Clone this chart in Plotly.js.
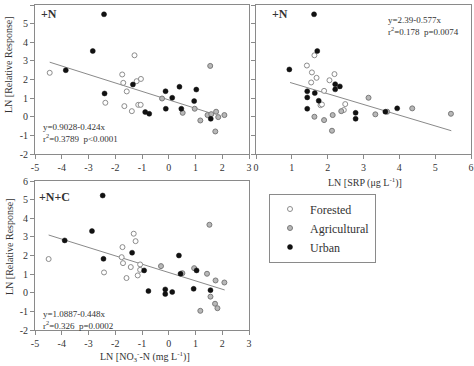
<!DOCTYPE html>
<html>
<head>
<meta charset="utf-8">
<script src="https://cdn.plot.ly/plotly-3.0.1.min.js"></script>
<style>html,body{margin:0;padding:0;background:#fff;}#chart{width:474px;height:366px;}</style>
</head>
<body>
<div id="chart"></div>
<script>
// ---- Data: panel A  (+N vs LN nitrate) ----
var nForX = [-4.45,-2.37,-1.74,-1.70,-1.66,-1.57,-1.38,-1.28,-1.20,-1.04,-1.14,-1.05];
var nForY = [2.36,0.75,2.27,1.82,0.57,1.36,0.30,3.30,1.91,2.03,0.64,0.64];
var nAgrX = [-0.25,0.52,0.97,1.18,1.45,1.55,1.59,1.77,1.74,1.85,2.08];
var nAgrY = [0.98,0.21,0.43,-0.20,0.09,2.73,0.14,0.27,-0.79,-0.02,0.09];
var nUrbX = [-2.42,-2.84,-3.85,-2.40,-1.34,-0.88,-0.73,-0.12,-0.11,0.13,0.40,0.47,0.95,1.03,1.57];
var nUrbY = [5.50,3.53,2.50,1.25,1.73,0.25,0.16,1.37,0.43,1.02,1.61,0.43,0.84,1.46,-0.11];
var nFitX = [-4.45,1.62];
var nFitY = [2.93,0.17];

// ---- Data: panel B  (+N vs LN SRP) ----
var sForX = [1.63,1.42,1.56,2.19,1.69,2.05,1.54,1.90,1.80,1.84,2.49,2.45];
var sForY = [3.30,2.75,2.38,2.29,2.09,1.96,1.84,1.39,0.62,0.66,0.68,0.36];
var sAgrX = [2.38,3.14,3.66,3.33,1.63,2.14,1.90,2.12,4.36,5.44];
var sAgrY = [0.30,1.02,0.27,0.13,0.00,0.09,-0.18,-0.75,0.45,0.16];
var sUrbX = [1.62,1.71,0.93,2.21,2.34,2.21,1.43,1.64,1.43,1.75,1.43,2.78,2.78,3.61,3.94];
var sUrbY = [5.50,3.53,2.54,1.75,1.63,1.47,1.37,1.27,1.04,0.86,0.43,0.21,-0.11,0.27,0.45];
var sFitX = [0.95,5.45];
var sFitY = [1.84,-0.75];

// ---- Data: panel C  (+N+C vs LN nitrate) ----
var cForX = [-4.49,-2.42,-1.73,-1.76,-1.71,-1.58,-1.42,-1.31,-1.24,-1.16,-1.07,-1.07];
var cForY = [1.81,1.09,2.45,1.91,1.59,0.79,1.38,3.17,2.77,0.93,1.52,1.23];
var cAgrX = [-0.29,0.51,0.95,1.43,1.52,1.56,1.18,1.75,1.73,1.82,2.08];
var cAgrY = [1.43,1.05,1.32,1.02,3.65,-0.21,-0.97,0.66,-0.59,-0.83,0.55];
var cUrbX = [-2.47,-2.87,-3.89,-2.44,-1.37,-0.92,-0.76,-0.13,-0.13,0.13,0.38,0.44,0.93,1.04,1.56];
var cUrbY = [5.22,3.31,2.81,1.82,2.15,1.20,0.09,0.18,-0.07,0.04,2.00,1.02,0.21,1.20,0.14];
var cFitX = [-4.49,2.09];
var cFitY = [3.10,0.15];

// ---- Tick labels ----
var yTickVals = [-2,-1,0,1,2,3,4,5,6];
var yTickText = ['-2','-1','0','1','2','3','4','5','6'];
var xNTickVals = [-5,-4,-3,-2,-1,0,1,2,3];
var xNTickText = ['-5','-4','-3','-2','-1','0','1','2','3'];
var xSTickVals = [0,1,2,3,4,5,6];
var xSTickText = ['0','1','2','3','4','5','6'];

var W = 474, H = 366;
function px(x){return x/W;}
function py(y){return 1-y/H;}

var serif = 'Liberation Serif, Times New Roman, serif';
var mFor = {symbol:'circle', size:5, color:'#ffffff', line:{color:'#8c8c8c', width:1}};
var mAgr = {symbol:'circle', size:5, color:'#b8b8b8', line:{color:'#7a7a7a', width:1}};
var mUrb = {symbol:'circle', size:5, color:'#111111', line:{color:'#111111', width:0.5}};
var fitLine = {color:'#8a8a8a', width:1};

function pts(x,y,xa,ya,name,m,show){
  return {type:'scatter', mode:'markers', x:x, y:y, xaxis:xa, yaxis:ya, name:name,
          marker:m, showlegend:show, hoverinfo:'skip'};
}
function fit(x,y,xa,ya){
  return {type:'scatter', mode:'lines', x:x, y:y, xaxis:xa, yaxis:ya, line:fitLine,
          showlegend:false, hoverinfo:'skip'};
}

var data = [
  fit(nFitX,nFitY,'x','y'),
  pts(nForX,nForY,'x','y','Forested',mFor,true),
  pts(nAgrX,nAgrY,'x','y','Agricultural',mAgr,true),
  pts(nUrbX,nUrbY,'x','y','Urban',mUrb,true),
  fit(sFitX,sFitY,'x2','y2'),
  pts(sForX,sForY,'x2','y2','Forested',mFor,false),
  pts(sAgrX,sAgrY,'x2','y2','Agricultural',mAgr,false),
  pts(sUrbX,sUrbY,'x2','y2','Urban',mUrb,false),
  fit(cFitX,cFitY,'x3','y3'),
  pts(cForX,cForY,'x3','y3','Forested',mFor,false),
  pts(cAgrX,cAgrY,'x3','y3','Agricultural',mAgr,false),
  pts(cUrbX,cUrbY,'x3','y3','Urban',mUrb,false)
];

function axis(extra){
  var a = {showgrid:false, zeroline:false, showline:true, mirror:true, linecolor:'#8a8a8a',
           linewidth:1, ticks:'outside', ticklen:4, tickcolor:'#8a8a8a', tickwidth:1,
           tickfont:{family:serif, size:10, color:'#333'}, tickmode:'array', fixedrange:true};
  for (var k in extra) a[k] = extra[k];
  return a;
}

var topDom = [py(154), py(5)];
var botDom = [py(330), py(181)];
var leftDom = [px(35), px(249)];
var rightDom = [px(256), px(471)];

var layout = {
  width:W, height:H, margin:{l:0,r:0,t:0,b:0},
  paper_bgcolor:'#ffffff', plot_bgcolor:'#ffffff',
  font:{family:serif, color:'#333'},
  xaxis: axis({domain:leftDom, range:[-5,3], tickvals:xNTickVals, ticktext:xNTickText, anchor:'y'}),
  yaxis: axis({domain:topDom, range:[-2,6], tickvals:yTickVals, ticktext:yTickText, anchor:'x'}),
  xaxis2: axis({domain:rightDom, range:[0,6], tickvals:xSTickVals, ticktext:xSTickText, anchor:'y2'}),
  yaxis2: axis({domain:topDom, range:[-2,6], tickvals:yTickVals, ticktext:yTickText, showticklabels:false, anchor:'x2'}),
  xaxis3: axis({domain:leftDom, range:[-5,3], tickvals:xNTickVals, ticktext:xNTickText, anchor:'y3'}),
  yaxis3: axis({domain:botDom, range:[-2,6], tickvals:yTickVals, ticktext:yTickText, anchor:'x3'}),
  showlegend:true,
  legend:{x:px(269), y:py(228), xanchor:'left', yanchor:'middle', bordercolor:'#8a8a8a', borderwidth:1,
          bgcolor:'#ffffff', font:{family:serif, size:12, color:'#333'}, tracegroupgap:0},
  annotations:[]
};

function ann(text, x, y, opts){
  var a = {text:text, xref:'paper', yref:'paper', x:px(x), y:py(y), xanchor:'left', yanchor:'middle',
           align:'left', showarrow:false, font:{family:serif, size:9, color:'#333'}};
  for (var k in opts) a[k] = opts[k];
  layout.annotations.push(a);
}
var bold = {family:serif, size:12, color:'#333', weight:'bold'};
ann('<b>+N</b>', 39, 14, {font:bold});
ann('<b>+N</b>', 270, 14, {font:bold});
ann('<b>+N+C</b>', 37, 197, {font:bold});
ann('y=0.9028-0.424x<br>r<sup>2</sup>=0.3789  p&lt;0.0001', 41, 133);
ann('y=2.39-0.577x<br>r<sup>2</sup>=0.178  p=0.0074', 386, 25.5);
ann('y=1.0887-0.448x<br>r<sup>2</sup>=0.326  p=0.0002', 41, 320);
// axis titles
var tFont = {family:serif, size:10, color:'#333'};
ann('LN [Relative Response]', 9, 65, {textangle:-90, xanchor:'center', font:tFont});
ann('LN [Relative Response]', 9, 247, {textangle:-90, xanchor:'center', font:tFont});
ann('LN [SRP (\u03bcg L<sup>-1</sup>)]', 365, 182, {xanchor:'center', font:tFont});
ann('LN [NO<sub>3</sub><sup>-</sup>-N (mg L<sup>-1</sup>)]', 145, 357, {xanchor:'center', font:tFont});

Plotly.newPlot('chart', data, layout, {staticPlot:true, displayModeBar:false});
</script>
</body>
</html>
